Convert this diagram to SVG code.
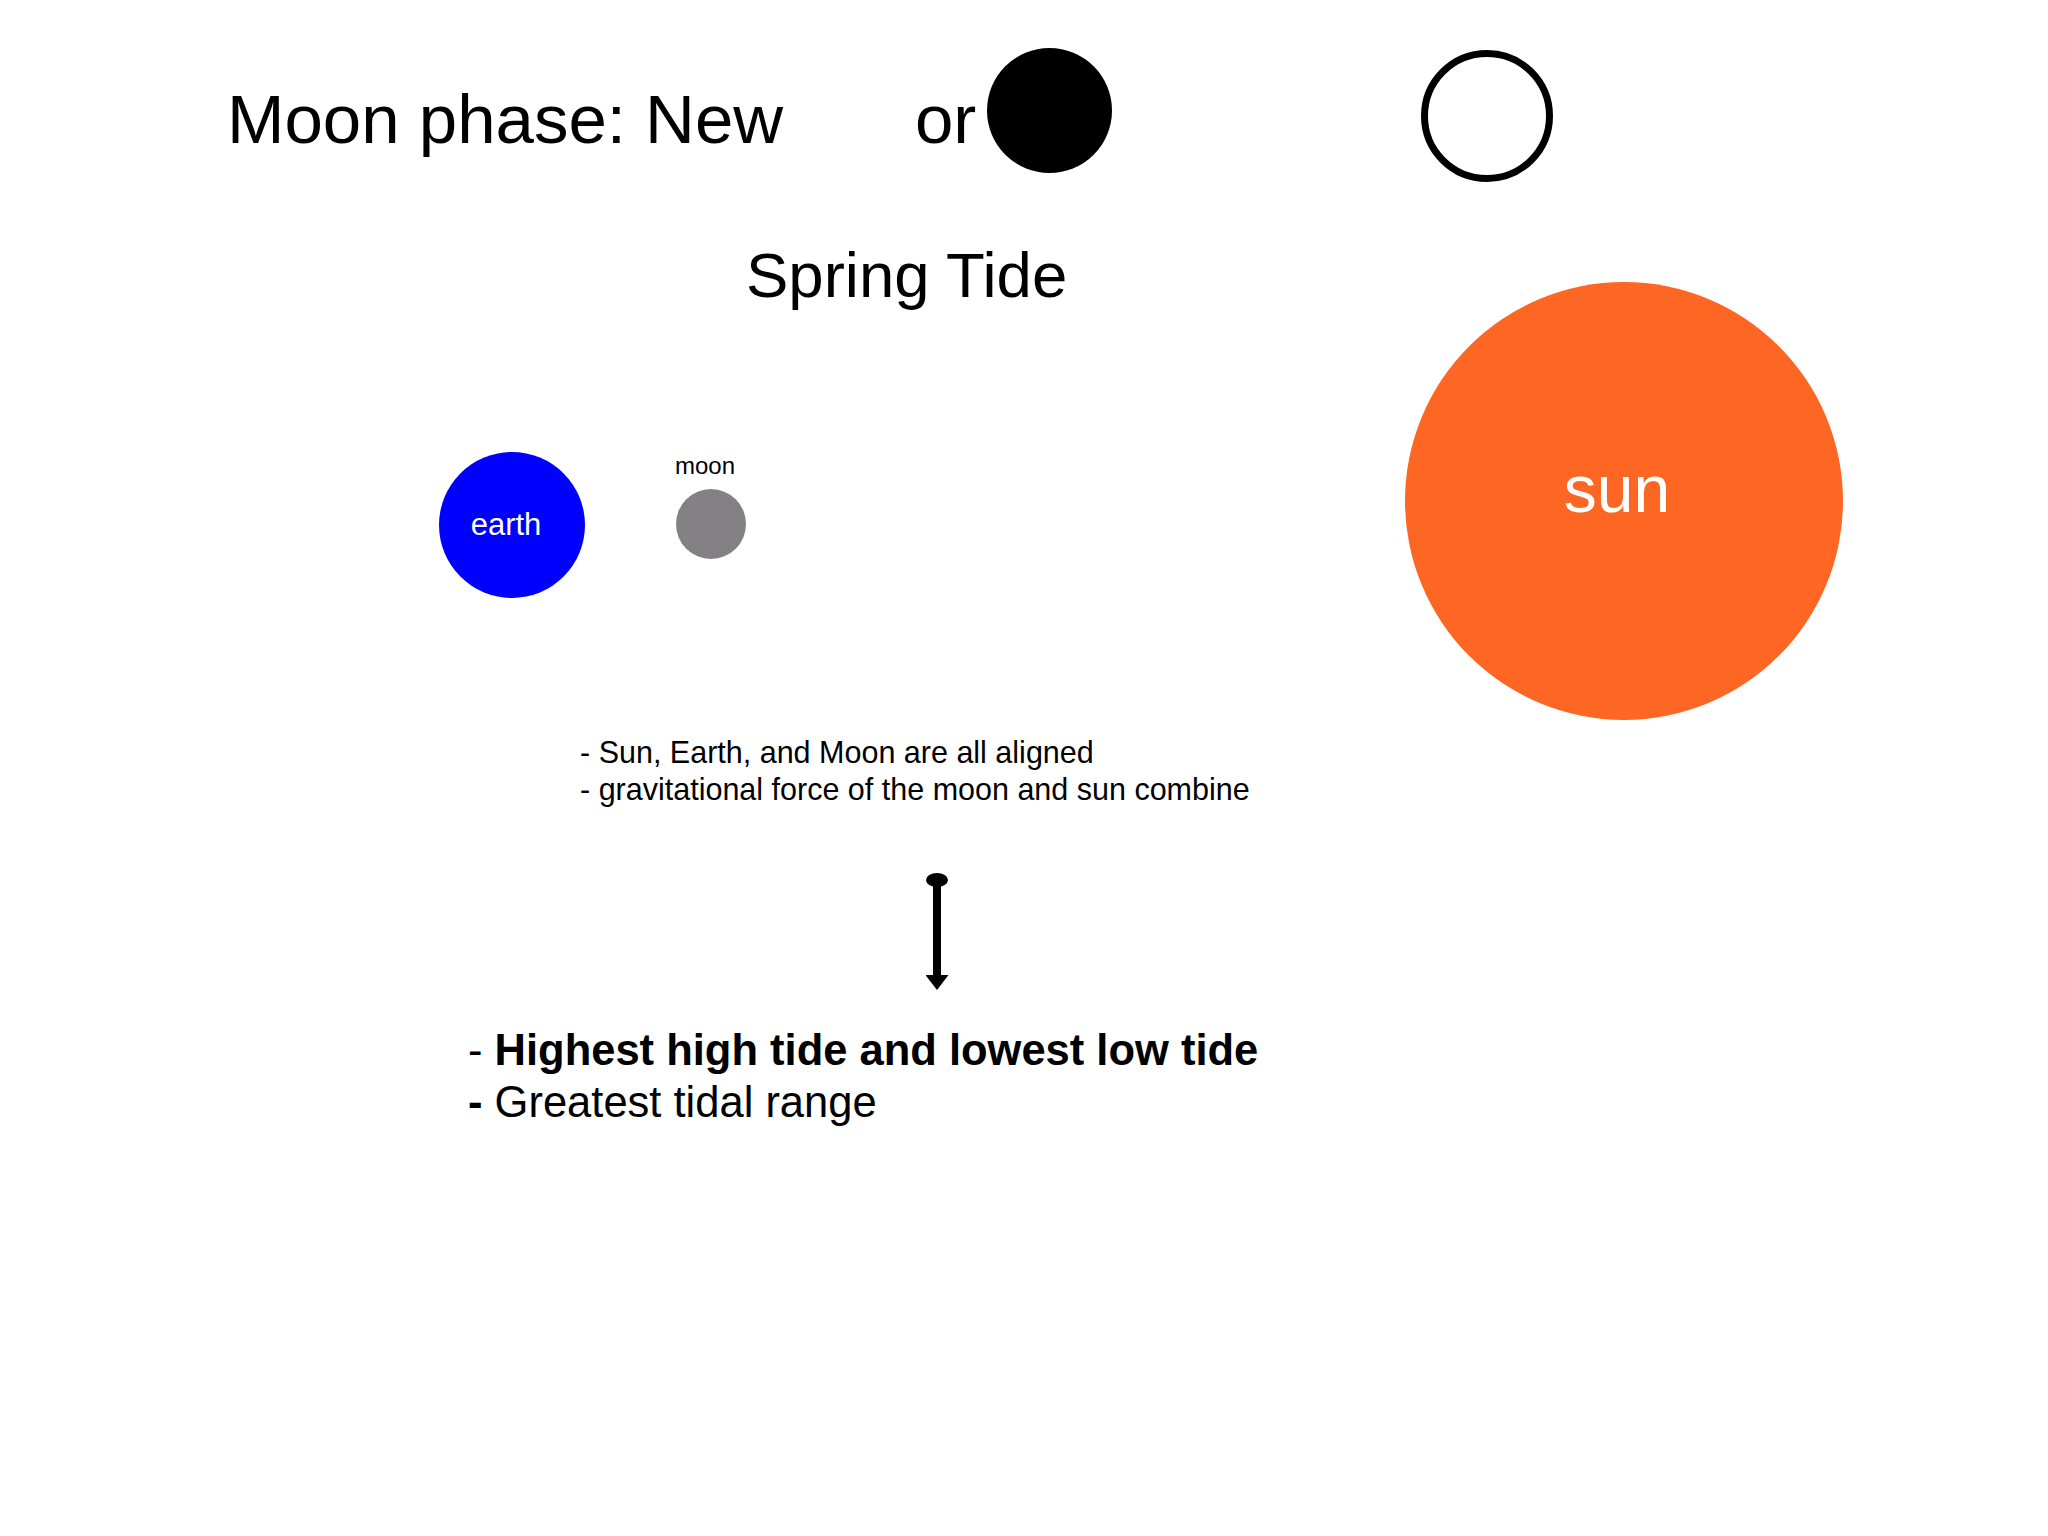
<svg xmlns="http://www.w3.org/2000/svg" width="2048" height="1536" viewBox="0 0 2048 1536">
  <style>
    text { font-family: "Liberation Sans", Arial, sans-serif; fill: #000; }
    .white { fill: #fff; }
    .b { font-weight: bold; }
  </style>
  <defs>
    <marker id="arrowHead" viewBox="0 0 15 23" refX="0" refY="11.5" markerWidth="15" markerHeight="23" markerUnits="userSpaceOnUse" orient="auto">
      <polygon points="0,0 15,11.5 0,23" fill="#000"/>
    </marker>
  </defs>
  <rect x="0" y="0" width="2048" height="1536" fill="#fff"/>

  <g id="title">
    <text x="227" y="143" font-size="69">Moon phase: New</text>
    <text x="915" y="143" font-size="69">or</text>
  </g>
  <g id="new-moon-filled">
    <circle cx="1049.5" cy="110.5" r="62.5" fill="#000"/>
  </g>
  <g id="new-moon-outline">
    <circle cx="1487" cy="116" r="62.5" fill="none" stroke="#000" stroke-width="7"/>
  </g>
  <g id="heading">
    <text x="746" y="297" font-size="63.5">Spring Tide</text>
  </g>

  <g id="earth">
    <circle cx="512" cy="525" r="73" fill="#0000ff"/>
    <text class="white" x="506" y="535" font-size="31" text-anchor="middle">earth</text>
  </g>
  <g id="moon">
    <text x="675" y="474" font-size="24">moon</text>
    <circle cx="711" cy="524" r="35" fill="#838183"/>
  </g>
  <g id="sun">
    <circle cx="1624" cy="501" r="219" fill="#fe6723"/>
    <text class="white" x="1617" y="512" font-size="66" text-anchor="middle">sun</text>
  </g>

  <g id="notes">
    <text x="580" y="763" font-size="30.5">- Sun, Earth, and Moon are all aligned</text>
    <text x="580" y="800" font-size="30.5">- gravitational force of the moon and sun combine</text>
  </g>

  <g id="connectors">
    <ellipse cx="937" cy="880" rx="11" ry="7" fill="#000"/>
    <line x1="937" y1="880" x2="937" y2="975" stroke="#000" stroke-width="8" marker-end="url(#arrowHead)"/>
  </g>

  <g id="result">
    <text x="468" y="1065" font-size="43.5">- <tspan class="b">Highest high tide and lowest low tide</tspan></text>
    <text x="468" y="1117" font-size="43.5"><tspan class="b">-</tspan> Greatest tidal range</text>
  </g>
</svg>
